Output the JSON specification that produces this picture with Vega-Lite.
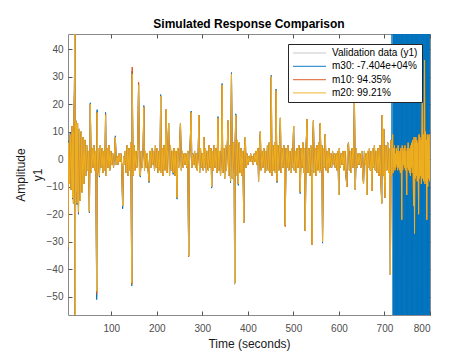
{
"$schema": "https://vega.github.io/schema/vega-lite/v6.json",
"width": 362, "height": 281,
"autosize": "none",
"padding": {"left": 68, "top": 34, "right": 44, "bottom": 40},
"background": "white",
"title": {"text": "Simulated Response Comparison", "fontSize": 12, "font": "Liberation Sans", "fontWeight": "bold", "color": "#000000", "offset": 3},
"config": {
 "view": {"stroke": "#8a8a8a", "strokeWidth": 1},
 "axis": {"labelFont": "Liberation Sans", "labelFontSize": 10, "labelColor": "#4d4d4d", "titleFont": "Liberation Sans", "titleFontSize": 12, "titleColor": "#1a1a1a", "titleFontWeight": "normal", "tickColor": "#555555", "tickSize": -4, "domain": false, "grid": false},
 "legend": {"orient": "none", "legendX": 220, "legendY": 10, "fillColor": "white", "strokeColor": "#262626", "padding": 4, "symbolType": "stroke", "symbolSize": 1089, "symbolStrokeWidth": 1.2, "symbolOpacity": 0.75, "labelFont": "Liberation Sans", "labelFontSize": 10, "labelColor": "#000000", "rowPadding": 3.3, "labelOffset": 5, "clipHeight": 10}
},
"data": {"values": [
{"t":5,"v":-33,"a":-33,"b":-33,"c":-32},
{"t":6,"v":6,"a":6.5,"b":6,"c":6},
{"t":8,"v":-9,"a":-9,"b":-9,"c":-9},
{"t":10,"v":9,"a":9.5,"b":9,"c":9},
{"t":12,"v":-11,"a":-11,"b":-11,"c":-11},
{"t":14,"v":12,"a":12,"b":12,"c":12},
{"t":15,"v":-14,"a":-14.5,"b":-14,"c":-14},
{"t":16,"v":10,"a":10,"b":10,"c":10},
{"t":17,"v":-16,"a":-16,"b":-16,"c":-16},
{"t":18,"v":15,"a":15.5,"b":15,"c":15},
{"t":19,"v":23,"a":25,"b":24,"c":24},
{"t":20,"v":50,"a":50,"b":50,"c":50},
{"t":21,"v":-60,"a":-60,"b":-60,"c":-60},
{"t":22,"v":14,"a":14,"b":14,"c":14},
{"t":23,"v":-12,"a":-12,"b":-12,"c":-12},
{"t":24,"v":13,"a":13,"b":13,"c":13},
{"t":25,"v":-16,"a":-16.5,"b":-16,"c":-16},
{"t":26,"v":13,"a":13,"b":13,"c":13},
{"t":28,"v":-19,"a":-20,"b":-19.5,"c":-19},
{"t":30,"v":11,"a":11,"b":11,"c":11},
{"t":32,"v":-15,"a":-15,"b":-15,"c":-15},
{"t":34,"v":10,"a":10,"b":10,"c":10},
{"t":36,"v":-12,"a":-12,"b":-12,"c":-12},
{"t":38,"v":8,"a":8,"b":8,"c":8},
{"t":40,"v":-9,"a":-9,"b":-9,"c":-9},
{"t":42,"v":7,"a":7,"b":7,"c":7},
{"t":44,"v":-6,"a":-6,"b":-6,"c":-6},
{"t":46,"v":5,"a":5,"b":5,"c":5},
{"t":48,"v":-4,"a":-4,"b":-4,"c":-4},
{"t":50,"v":3,"a":3,"b":3,"c":3},
{"t":52,"v":-19,"a":-19.5,"b":-19,"c":-19},
{"t":54,"v":19.5,"a":20.5,"b":20,"c":20},
{"t":56,"v":-5,"a":-5,"b":-5,"c":-5},
{"t":58,"v":4,"a":4,"b":4,"c":4},
{"t":60,"v":-3,"a":-3,"b":-3,"c":-3},
{"t":62,"v":5,"a":5,"b":5,"c":5},
{"t":64,"v":-4,"a":-4,"b":-4,"c":-4},
{"t":66,"v":3,"a":3,"b":3,"c":3},
{"t":68,"v":-50,"a":-51,"b":-49,"c":-48},
{"t":69,"v":17.5,"a":18,"b":17,"c":17},
{"t":70,"v":-5,"a":-5,"b":-5,"c":-5},
{"t":72,"v":4,"a":4,"b":4,"c":4},
{"t":74,"v":-6,"a":-6.5,"b":-6,"c":-6},
{"t":76,"v":5,"a":5,"b":5,"c":5},
{"t":78,"v":-3,"a":-3,"b":-3,"c":-3},
{"t":80,"v":4,"a":4,"b":4,"c":4},
{"t":82,"v":-5,"a":-5,"b":-5,"c":-5},
{"t":84,"v":3,"a":3,"b":3,"c":3},
{"t":86,"v":-4,"a":-4,"b":-4,"c":-4},
{"t":87.5,"v":16,"a":17,"b":16.5,"c":16},
{"t":89,"v":-6,"a":-6,"b":-6,"c":-6},
{"t":91,"v":4,"a":4,"b":4,"c":4},
{"t":93,"v":-3,"a":-3,"b":-3,"c":-3},
{"t":95,"v":5,"a":5,"b":5,"c":5},
{"t":97,"v":-4,"a":-4,"b":-4,"c":-4},
{"t":99,"v":3,"a":3,"b":3,"c":3},
{"t":101,"v":-2,"a":-2,"b":-2,"c":-2},
{"t":103,"v":2,"a":2,"b":2,"c":2},
{"t":105,"v":-3,"a":-3,"b":-3,"c":-3},
{"t":107,"v":2,"a":2,"b":2,"c":2},
{"t":109,"v":8,"a":8.5,"b":8,"c":8},
{"t":111,"v":-2,"a":-2,"b":-2,"c":-2},
{"t":113,"v":1,"a":1,"b":1,"c":1},
{"t":115,"v":-2,"a":-2,"b":-2,"c":-2},
{"t":117,"v":2,"a":2,"b":2,"c":2},
{"t":119,"v":-1,"a":-1,"b":-1,"c":-1},
{"t":121,"v":2,"a":2,"b":2,"c":2},
{"t":123,"v":-2,"a":-2,"b":-2,"c":-2},
{"t":125,"v":-17,"a":-18,"b":-17,"c":-17},
{"t":127,"v":1,"a":1,"b":1,"c":1},
{"t":129,"v":-2,"a":-2,"b":-2,"c":-2},
{"t":131,"v":3,"a":3,"b":3,"c":3},
{"t":133,"v":-5,"a":-5,"b":-5,"c":-5},
{"t":135,"v":5,"a":5,"b":5,"c":5},
{"t":137,"v":-6,"a":-6,"b":-6,"c":-6},
{"t":139,"v":4,"a":4,"b":4,"c":4},
{"t":141,"v":-4,"a":-4,"b":-4,"c":-4},
{"t":143,"v":6,"a":6,"b":6,"c":6},
{"t":145,"v":-45,"a":-46,"b":-45.5,"c":-45},
{"t":146,"v":32,"a":32,"b":33.5,"c":31},
{"t":148,"v":-6,"a":-6,"b":-6,"c":-6},
{"t":150,"v":5,"a":5,"b":5,"c":5},
{"t":152,"v":-4,"a":-4,"b":-4,"c":-4},
{"t":154,"v":3,"a":3,"b":3,"c":3},
{"t":156,"v":-3,"a":-3,"b":-3,"c":-3},
{"t":158,"v":4,"a":4,"b":4,"c":4},
{"t":160,"v":27,"a":27.5,"b":28,"c":27},
{"t":162,"v":-5,"a":-5,"b":-5,"c":-5},
{"t":164,"v":-6,"a":-6.5,"b":-6,"c":-6},
{"t":166,"v":3,"a":3,"b":3,"c":3},
{"t":168,"v":-3,"a":-3,"b":-3,"c":-3},
{"t":170,"v":4,"a":4,"b":4,"c":4},
{"t":171.5,"v":19,"a":19.5,"b":19,"c":19},
{"t":173,"v":-4,"a":-4,"b":-4,"c":-4},
{"t":175,"v":3,"a":3,"b":3,"c":3},
{"t":177,"v":-3,"a":-3,"b":-3,"c":-3},
{"t":179,"v":2,"a":2,"b":2,"c":2},
{"t":181,"v":-4,"a":-4,"b":-4,"c":-4},
{"t":183,"v":-8,"a":-8.5,"b":-8,"c":-8},
{"t":185,"v":3,"a":3,"b":3,"c":3},
{"t":187,"v":-3,"a":-3,"b":-3,"c":-3},
{"t":189,"v":4,"a":4,"b":4,"c":4},
{"t":191,"v":-2,"a":-2,"b":-2,"c":-2},
{"t":193,"v":3,"a":3,"b":3,"c":3},
{"t":195,"v":-4,"a":-4,"b":-4,"c":-4},
{"t":197,"v":5,"a":5,"b":5,"c":5},
{"t":199,"v":-3,"a":-3,"b":-3,"c":-3},
{"t":201,"v":4,"a":4,"b":4,"c":4},
{"t":203,"v":-5,"a":-5,"b":-5,"c":-5},
{"t":205,"v":3,"a":3,"b":3,"c":3},
{"t":207,"v":-4,"a":-4,"b":-4,"c":-4},
{"t":208.5,"v":23,"a":23.5,"b":23,"c":23},
{"t":210,"v":-5,"a":-5,"b":-5,"c":-5},
{"t":212,"v":4,"a":4,"b":4,"c":4},
{"t":214,"v":-6,"a":-6,"b":-6,"c":-6},
{"t":216,"v":5,"a":5,"b":5,"c":5},
{"t":218,"v":-4,"a":-4,"b":-4,"c":-4},
{"t":220.5,"v":18,"a":18,"b":18,"c":18},
{"t":222,"v":-5,"a":-5,"b":-5,"c":-5},
{"t":224,"v":4,"a":4,"b":4,"c":4},
{"t":226,"v":13,"a":13,"b":13,"c":13},
{"t":228,"v":-6,"a":-6,"b":-6,"c":-6},
{"t":230,"v":5,"a":5,"b":5,"c":5},
{"t":232,"v":-4,"a":-4,"b":-4,"c":-4},
{"t":234,"v":3,"a":3,"b":3,"c":3},
{"t":236,"v":-5,"a":-5.5,"b":-5,"c":-5},
{"t":238,"v":4,"a":4,"b":4,"c":4},
{"t":240,"v":-6,"a":-6,"b":-6,"c":-6},
{"t":242,"v":3,"a":3,"b":3,"c":3},
{"t":244.5,"v":-14,"a":-14.5,"b":-14,"c":-14},
{"t":246,"v":4,"a":4,"b":4,"c":4},
{"t":248,"v":-3,"a":-3,"b":-3,"c":-3},
{"t":250,"v":5,"a":5,"b":5,"c":5},
{"t":252,"v":13,"a":13,"b":13,"c":13},
{"t":254,"v":-4,"a":-4,"b":-4,"c":-4},
{"t":256,"v":3,"a":3,"b":3,"c":3},
{"t":258,"v":-3,"a":-3,"b":-3,"c":-3},
{"t":260,"v":2,"a":2,"b":2,"c":2},
{"t":262,"v":-2,"a":-2,"b":-2,"c":-2},
{"t":264,"v":2,"a":2,"b":2,"c":2},
{"t":266,"v":-3,"a":-3,"b":-3,"c":-3},
{"t":268,"v":3,"a":3,"b":3,"c":3},
{"t":270,"v":-35,"a":-35,"b":-35.5,"c":-35},
{"t":271.5,"v":-2,"a":-2,"b":-2,"c":-2},
{"t":273,"v":4,"a":4,"b":4,"c":4},
{"t":275.5,"v":17,"a":17.5,"b":17,"c":17},
{"t":277,"v":-3,"a":-3,"b":-3,"c":-3},
{"t":279,"v":2,"a":2,"b":2,"c":2},
{"t":281,"v":-2,"a":-2,"b":-2,"c":-2},
{"t":283,"v":3,"a":3,"b":3,"c":3},
{"t":285,"v":-3,"a":-3,"b":-3,"c":-3},
{"t":287,"v":2,"a":2,"b":2,"c":2},
{"t":289,"v":-4,"a":-4,"b":-4,"c":-4},
{"t":291,"v":3,"a":3,"b":3,"c":3},
{"t":292.5,"v":16,"a":16,"b":16,"c":16},
{"t":294,"v":-5,"a":-5,"b":-5,"c":-5},
{"t":296,"v":4,"a":4,"b":4,"c":4},
{"t":298,"v":-3,"a":-3,"b":-3,"c":-3},
{"t":300,"v":2,"a":2,"b":2,"c":2},
{"t":302,"v":-4,"a":-4,"b":-4,"c":-4},
{"t":303.5,"v":8,"a":8,"b":8,"c":8},
{"t":305,"v":-3,"a":-3,"b":-3,"c":-3},
{"t":307,"v":4,"a":4,"b":4,"c":4},
{"t":309,"v":-5,"a":-5,"b":-5,"c":-5},
{"t":311,"v":3,"a":3,"b":3,"c":3},
{"t":313,"v":-4,"a":-4,"b":-4,"c":-4},
{"t":315,"v":5,"a":5,"b":5,"c":5},
{"t":317,"v":-3,"a":-3,"b":-3,"c":-3},
{"t":319,"v":4,"a":4,"b":4,"c":4},
{"t":320.5,"v":-10,"a":-10.5,"b":-10,"c":-10},
{"t":322,"v":3,"a":3,"b":3,"c":3},
{"t":324,"v":-4,"a":-4,"b":-4,"c":-4},
{"t":326,"v":5,"a":5,"b":5,"c":5},
{"t":328,"v":-3,"a":-3,"b":-3,"c":-3},
{"t":330,"v":4,"a":4,"b":4,"c":4},
{"t":332,"v":-5,"a":-5,"b":-5,"c":-5},
{"t":334.5,"v":15,"a":15.5,"b":15,"c":15},
{"t":336,"v":-4,"a":-4,"b":-4,"c":-4},
{"t":338,"v":3,"a":3,"b":3,"c":3},
{"t":340,"v":-6,"a":-6,"b":-6,"c":-6},
{"t":342,"v":4,"a":4,"b":4,"c":4},
{"t":343.5,"v":27,"a":27.5,"b":27,"c":27},
{"t":345,"v":-5,"a":-5,"b":-5,"c":-5},
{"t":347,"v":4,"a":4,"b":4,"c":4},
{"t":349,"v":-7,"a":-7,"b":-7,"c":-7},
{"t":351,"v":5,"a":5,"b":5,"c":5},
{"t":353,"v":-4,"a":-4,"b":-4,"c":-4},
{"t":355,"v":6,"a":6,"b":6,"c":6},
{"t":356.5,"v":14,"a":14,"b":14,"c":14},
{"t":358,"v":-6,"a":-6,"b":-6,"c":-6},
{"t":360,"v":5,"a":5,"b":5,"c":5},
{"t":362,"v":-8,"a":-8.5,"b":-8,"c":-8},
{"t":364,"v":31,"a":31.5,"b":31,"c":31},
{"t":366,"v":-7,"a":-7,"b":-7,"c":-7},
{"t":368,"v":6,"a":6,"b":6,"c":6},
{"t":370,"v":-5,"a":-5,"b":-5,"c":-5},
{"t":371,"v":-45.5,"a":-45,"b":-45,"c":-45},
{"t":372,"v":5,"a":5,"b":5,"c":5},
{"t":373.5,"v":16,"a":16.5,"b":16,"c":16},
{"t":375,"v":-6,"a":-6,"b":-6,"c":-6},
{"t":377,"v":7,"a":7,"b":7,"c":7},
{"t":379,"v":-9,"a":-9.5,"b":-9,"c":-9},
{"t":381,"v":6,"a":6,"b":6,"c":6},
{"t":383,"v":-5,"a":-5,"b":-5,"c":-5},
{"t":385,"v":4,"a":4,"b":4,"c":4},
{"t":387,"v":-6,"a":-6,"b":-6,"c":-6},
{"t":389,"v":3,"a":3,"b":3,"c":3},
{"t":391,"v":-23,"a":-23,"b":-23,"c":-23},
{"t":392.5,"v":4,"a":4,"b":4,"c":4},
{"t":394.5,"v":8,"a":8,"b":8,"c":8},
{"t":396,"v":-3,"a":-3,"b":-3,"c":-3},
{"t":398,"v":2,"a":2,"b":2,"c":2},
{"t":400,"v":-2,"a":-2,"b":-2,"c":-2},
{"t":402,"v":1,"a":1,"b":1,"c":1},
{"t":404,"v":-1,"a":-1,"b":-1,"c":-1},
{"t":406,"v":2,"a":2,"b":2,"c":2},
{"t":408,"v":-1,"a":-1,"b":-1,"c":-1},
{"t":410,"v":1,"a":1,"b":1,"c":1},
{"t":412,"v":-2,"a":-2,"b":-2,"c":-2},
{"t":414,"v":2,"a":2,"b":2,"c":2},
{"t":416,"v":-1,"a":-1,"b":-1,"c":-1},
{"t":418,"v":3,"a":3,"b":3,"c":3},
{"t":420,"v":-2,"a":-2,"b":-2,"c":-2},
{"t":422,"v":4,"a":4,"b":4,"c":4},
{"t":423.5,"v":-8,"a":-8,"b":-8,"c":-8},
{"t":425,"v":3,"a":3,"b":3,"c":3},
{"t":427.5,"v":10,"a":10,"b":10,"c":10},
{"t":429,"v":-4,"a":-4,"b":-4,"c":-4},
{"t":431,"v":3,"a":3,"b":3,"c":3},
{"t":433,"v":-3,"a":-3,"b":-3,"c":-3},
{"t":435,"v":4,"a":4,"b":4,"c":4},
{"t":437,"v":-5,"a":-5,"b":-5,"c":-5},
{"t":439,"v":3,"a":3,"b":3,"c":3},
{"t":441,"v":-4,"a":-4,"b":-4,"c":-4},
{"t":443,"v":5,"a":5,"b":5,"c":5},
{"t":445,"v":-4,"a":-4,"b":-4,"c":-4},
{"t":447,"v":6,"a":6,"b":6,"c":6},
{"t":449,"v":-5,"a":-5,"b":-5,"c":-5},
{"t":451.5,"v":30,"a":30.5,"b":30,"c":30},
{"t":453,"v":-6,"a":-6,"b":-6,"c":-6},
{"t":455,"v":5,"a":5,"b":5,"c":5},
{"t":457,"v":-4,"a":-4,"b":-4,"c":-4},
{"t":459,"v":6,"a":6,"b":6,"c":6},
{"t":460.5,"v":-5,"a":-5,"b":-5,"c":-5},
{"t":462,"v":25,"a":25.5,"b":25,"c":25},
{"t":464,"v":-8,"a":-8.5,"b":-8,"c":-8},
{"t":466,"v":5,"a":5,"b":5,"c":5},
{"t":468,"v":-4,"a":-4,"b":-4,"c":-4},
{"t":470,"v":6,"a":6,"b":6,"c":6},
{"t":471.5,"v":15,"a":15,"b":15,"c":15},
{"t":473,"v":-5,"a":-5,"b":-5,"c":-5},
{"t":475,"v":4,"a":4,"b":4,"c":4},
{"t":477,"v":-3,"a":-3,"b":-3,"c":-3},
{"t":479,"v":5,"a":5,"b":5,"c":5},
{"t":480.5,"v":-4,"a":-4,"b":-4,"c":-4},
{"t":482,"v":-24,"a":-24,"b":-24.5,"c":-24},
{"t":484,"v":4,"a":4,"b":4,"c":4},
{"t":486,"v":-3,"a":-3,"b":-3,"c":-3},
{"t":488,"v":5,"a":5,"b":5,"c":5},
{"t":490,"v":-4,"a":-4,"b":-4,"c":-4},
{"t":492,"v":3,"a":3,"b":3,"c":3},
{"t":494,"v":-5,"a":-5,"b":-5,"c":-5},
{"t":496,"v":4,"a":4,"b":4,"c":4},
{"t":498,"v":-3,"a":-3,"b":-3,"c":-3},
{"t":500.5,"v":12,"a":12,"b":12,"c":12},
{"t":502,"v":-4,"a":-4,"b":-4,"c":-4},
{"t":504,"v":3,"a":3,"b":3,"c":3},
{"t":506,"v":-5,"a":-5,"b":-5,"c":-5},
{"t":508,"v":4,"a":4,"b":4,"c":4},
{"t":510,"v":-3,"a":-3,"b":-3,"c":-3},
{"t":512,"v":5,"a":5,"b":5,"c":5},
{"t":513.5,"v":-4,"a":-4,"b":-4,"c":-4},
{"t":515,"v":-12,"a":-12.5,"b":-12,"c":-12},
{"t":517,"v":4,"a":4,"b":4,"c":4},
{"t":519,"v":-3,"a":-3,"b":-3,"c":-3},
{"t":521,"v":6,"a":6,"b":6,"c":6},
{"t":523,"v":-5,"a":-5,"b":-5,"c":-5},
{"t":524.5,"v":4,"a":4,"b":4,"c":4},
{"t":526,"v":-26,"a":-26,"b":-26,"c":-26},
{"t":528,"v":5,"a":5,"b":5,"c":5},
{"t":530,"v":14.5,"a":14.5,"b":14.5,"c":14.5},
{"t":532,"v":-5,"a":-5,"b":-5,"c":-5},
{"t":534,"v":4,"a":4,"b":4,"c":4},
{"t":536,"v":-6,"a":-6,"b":-6,"c":-6},
{"t":538,"v":5,"a":5,"b":5,"c":5},
{"t":540,"v":-4,"a":-4,"b":-4,"c":-4},
{"t":541,"v":-31,"a":-31,"b":-31,"c":-31},
{"t":542.5,"v":6,"a":6,"b":6,"c":6},
{"t":544,"v":14,"a":14,"b":14,"c":14},
{"t":546,"v":-5,"a":-5,"b":-5,"c":-5},
{"t":548,"v":4,"a":4,"b":4,"c":4},
{"t":550,"v":-6,"a":-6,"b":-6,"c":-6},
{"t":552,"v":5,"a":5,"b":5,"c":5},
{"t":554,"v":-4,"a":-4,"b":-4,"c":-4},
{"t":556,"v":6,"a":6,"b":6,"c":6},
{"t":557.5,"v":-5,"a":-5,"b":-5,"c":-5},
{"t":559,"v":13,"a":13,"b":13,"c":13},
{"t":561,"v":-4,"a":-4,"b":-4,"c":-4},
{"t":562.5,"v":5,"a":5,"b":5,"c":5},
{"t":564,"v":-30,"a":-30.5,"b":-30,"c":-30},
{"t":566,"v":4,"a":4,"b":4,"c":4},
{"t":568,"v":-3,"a":-3,"b":-3,"c":-3},
{"t":570,"v":9,"a":9,"b":9,"c":9},
{"t":572,"v":-4,"a":-4,"b":-4,"c":-4},
{"t":574,"v":3,"a":3,"b":3,"c":3},
{"t":576,"v":-5,"a":-5,"b":-5,"c":-5},
{"t":578,"v":4,"a":4,"b":4,"c":4},
{"t":580,"v":-3,"a":-3,"b":-3,"c":-3},
{"t":582,"v":2,"a":2,"b":2,"c":2},
{"t":584,"v":-3,"a":-3,"b":-3,"c":-3},
{"t":586,"v":3,"a":3,"b":3,"c":3},
{"t":588,"v":-2,"a":-2,"b":-2,"c":-2},
{"t":590,"v":2,"a":2,"b":2,"c":2},
{"t":592,"v":-3,"a":-3,"b":-3,"c":-3},
{"t":594,"v":2,"a":2,"b":2,"c":2},
{"t":596,"v":-4,"a":-4,"b":-4,"c":-4},
{"t":598,"v":3,"a":3,"b":3,"c":3},
{"t":599.5,"v":-13,"a":-13,"b":-13,"c":-13},
{"t":601,"v":4,"a":4,"b":4,"c":4},
{"t":603,"v":-3,"a":-3,"b":-3,"c":-3},
{"t":605,"v":2,"a":2,"b":2,"c":2},
{"t":607,"v":-2,"a":-2,"b":-2,"c":-2},
{"t":609,"v":3,"a":3,"b":3,"c":3},
{"t":611,"v":-4,"a":-4,"b":-4,"c":-4},
{"t":613,"v":3,"a":3,"b":3,"c":3},
{"t":615,"v":-5,"a":-5,"b":-5,"c":-5},
{"t":617.5,"v":-10,"a":-10,"b":-10,"c":-10},
{"t":619,"v":4,"a":4,"b":4,"c":4},
{"t":621,"v":6,"a":6,"b":6,"c":6},
{"t":623,"v":-4,"a":-4,"b":-4,"c":-4},
{"t":625,"v":3,"a":3,"b":3,"c":3},
{"t":627,"v":-5,"a":-5,"b":-5,"c":-5},
{"t":629,"v":4,"a":4,"b":4,"c":4},
{"t":631,"v":-3,"a":-3,"b":-3,"c":-3},
{"t":632.5,"v":5,"a":5,"b":5,"c":5},
{"t":634,"v":22,"a":22.5,"b":22,"c":22},
{"t":636,"v":-11,"a":-11,"b":-11,"c":-11},
{"t":638,"v":4,"a":4,"b":4,"c":4},
{"t":640,"v":-3,"a":-3,"b":-3,"c":-3},
{"t":642,"v":2,"a":2,"b":2,"c":2},
{"t":644,"v":-2,"a":-2,"b":-2,"c":-2},
{"t":646,"v":2,"a":2,"b":2,"c":2},
{"t":648,"v":-3,"a":-3,"b":-3,"c":-3},
{"t":650,"v":3,"a":3,"b":3,"c":3},
{"t":652,"v":-4,"a":-4,"b":-4,"c":-4},
{"t":654,"v":-9,"a":-9,"b":-9,"c":-9},
{"t":656,"v":3,"a":3,"b":3,"c":3},
{"t":658,"v":-2,"a":-2,"b":-2,"c":-2},
{"t":660,"v":2,"a":2,"b":2,"c":2},
{"t":661,"v":-13,"a":-13,"b":-13,"c":-13},
{"t":663,"v":3,"a":3,"b":3,"c":3},
{"t":665,"v":-3,"a":-3,"b":-3,"c":-3},
{"t":667,"v":4,"a":4,"b":4,"c":4},
{"t":669,"v":-4,"a":-4,"b":-4,"c":-4},
{"t":671,"v":3,"a":3,"b":3,"c":3},
{"t":672.5,"v":-11.5,"a":-11.5,"b":-11.5,"c":-11.5},
{"t":674,"v":4,"a":4,"b":4,"c":4},
{"t":676,"v":-3,"a":-3,"b":-3,"c":-3},
{"t":678,"v":5,"a":5,"b":5,"c":5},
{"t":680,"v":-4,"a":-4,"b":-4,"c":-4},
{"t":682,"v":3,"a":3,"b":3,"c":3},
{"t":684,"v":-5,"a":-5,"b":-5,"c":-5},
{"t":686,"v":4,"a":4,"b":4,"c":4},
{"t":688,"v":-6,"a":-6,"b":-6,"c":-6},
{"t":690,"v":5,"a":5,"b":5,"c":5},
{"t":692,"v":-7,"a":-7,"b":-7,"c":-7},
{"t":694,"v":-16,"a":-16,"b":-16,"c":-16},
{"t":695,"v":16,"a":16,"b":16,"c":16},
{"t":697,"v":-6,"a":-6,"b":-6,"c":-6},
{"t":698.5,"v":11,"a":11,"b":11,"c":11},
{"t":700,"v":-7,"a":-7,"b":-7,"c":-7},
{"t":701.5,"v":-14,"a":-14,"b":-14,"c":-14},
{"t":703,"v":5,"a":5,"b":5,"c":5},
{"t":705,"v":-4,"a":-4,"b":-4,"c":-4},
{"t":707,"v":6,"a":6,"b":6,"c":6},
{"t":709,"v":-5,"a":-5,"b":-5,"c":-5},
{"t":711,"v":4,"a":4,"b":4,"c":4},
{"t":713,"v":-42,"a":-42,"b":-42,"c":-42},
{"t":714.5,"v":7,"a":7,"b":7,"c":7},
{"t":716,"v":-6,"a":-6,"b":-6,"c":-6},
{"t":718,"v":9,"a":1000,"b":9,"c":9},
{"t":719,"v":-5,"a":-1000,"b":-5,"c":-5},
{"t":720,"v":4,"a":1000,"b":4,"c":4},
{"t":721,"v":-3,"a":-1000,"b":-3,"c":-3},
{"t":722,"v":5,"a":1000,"b":5,"c":5},
{"t":723,"v":-4,"a":-1000,"b":-4,"c":-4},
{"t":724,"v":2,"a":1000,"b":2,"c":2},
{"t":725,"v":-3,"a":-1000,"b":-3,"c":-3},
{"t":726,"v":4,"a":1000,"b":4,"c":4},
{"t":727,"v":-2,"a":-1000,"b":-2,"c":-2},
{"t":728,"v":3,"a":1000,"b":3,"c":3},
{"t":729,"v":-4,"a":-1000,"b":-4,"c":-4},
{"t":730,"v":5,"a":1000,"b":5,"c":5},
{"t":731,"v":-3,"a":-1000,"b":-3,"c":-3},
{"t":732,"v":2,"a":1000,"b":2,"c":2},
{"t":733,"v":-4,"a":-1000,"b":-4,"c":-4},
{"t":734,"v":3,"a":1000,"b":3,"c":3},
{"t":735,"v":-5,"a":-1000,"b":-5,"c":-5},
{"t":736,"v":4,"a":1000,"b":4,"c":4},
{"t":737,"v":-3,"a":-1000,"b":-3,"c":-3},
{"t":738,"v":-22,"a":1000,"b":-22,"c":-22},
{"t":739,"v":5,"a":-1000,"b":5,"c":5},
{"t":740,"v":-4,"a":1000,"b":-4,"c":-4},
{"t":741,"v":3,"a":-1000,"b":3,"c":3},
{"t":742,"v":-2,"a":1000,"b":-2,"c":-2},
{"t":743,"v":4,"a":-1000,"b":4,"c":4},
{"t":744,"v":-3,"a":1000,"b":-3,"c":-3},
{"t":745,"v":5,"a":-1000,"b":5,"c":5},
{"t":746,"v":-4,"a":1000,"b":-4,"c":-4},
{"t":747,"v":3,"a":-1000,"b":3,"c":3},
{"t":748,"v":-5,"a":1000,"b":-5,"c":-5},
{"t":749,"v":-13,"a":-1000,"b":-13,"c":-13},
{"t":750,"v":4,"a":1000,"b":4,"c":4},
{"t":751,"v":-3,"a":-1000,"b":-3,"c":-3},
{"t":752,"v":6,"a":1000,"b":6,"c":6},
{"t":753,"v":-4,"a":-1000,"b":-4,"c":-4},
{"t":754,"v":3,"a":1000,"b":3,"c":3},
{"t":755,"v":-5,"a":-1000,"b":-5,"c":-5},
{"t":756,"v":4,"a":1000,"b":4,"c":4},
{"t":757,"v":-6,"a":-1000,"b":-6,"c":-6},
{"t":758,"v":5,"a":1000,"b":5,"c":5},
{"t":759,"v":-3,"a":-1000,"b":-3,"c":-3},
{"t":760,"v":6,"a":1000,"b":6,"c":6},
{"t":761,"v":-5,"a":-1000,"b":-5,"c":-5},
{"t":762,"v":7,"a":1000,"b":7,"c":7},
{"t":763,"v":-6,"a":-1000,"b":-6,"c":-6},
{"t":764,"v":-17,"a":1000,"b":-17,"c":-17},
{"t":765,"v":8,"a":-1000,"b":8,"c":8},
{"t":766,"v":-27,"a":1000,"b":-27,"c":-27},
{"t":767,"v":6,"a":-1000,"b":6,"c":6},
{"t":768,"v":-7,"a":1000,"b":-7,"c":-7},
{"t":769,"v":8,"a":-1000,"b":8,"c":8},
{"t":770,"v":-6,"a":1000,"b":-6,"c":-6},
{"t":771,"v":7,"a":-1000,"b":7,"c":7},
{"t":772,"v":-8,"a":1000,"b":-8,"c":-8},
{"t":773,"v":6,"a":-1000,"b":6,"c":6},
{"t":774,"v":-5,"a":1000,"b":-5,"c":-5},
{"t":775,"v":-20,"a":-1000,"b":-20,"c":-20},
{"t":776,"v":9,"a":1000,"b":9,"c":9},
{"t":777,"v":-7,"a":-1000,"b":-7,"c":-7},
{"t":778,"v":8,"a":1000,"b":8,"c":8},
{"t":779,"v":-6,"a":-1000,"b":-6,"c":-6},
{"t":780,"v":7,"a":1000,"b":7,"c":7},
{"t":781,"v":-9,"a":-1000,"b":-9,"c":-9},
{"t":782,"v":8,"a":1000,"b":8,"c":8},
{"t":783,"v":21,"a":-1000,"b":21,"c":21},
{"t":784,"v":-7,"a":1000,"b":-7,"c":-7},
{"t":785,"v":9,"a":-1000,"b":9,"c":9},
{"t":786,"v":-8,"a":1000,"b":-8,"c":-8},
{"t":787,"v":6,"a":-1000,"b":6,"c":6},
{"t":788,"v":36,"a":1000,"b":36,"c":36},
{"t":789,"v":-9,"a":-1000,"b":-9,"c":-9},
{"t":790,"v":10,"a":1000,"b":10,"c":10},
{"t":791,"v":-8,"a":-1000,"b":-8,"c":-8},
{"t":792,"v":7,"a":1000,"b":7,"c":7},
{"t":793,"v":-22,"a":-1000,"b":-22,"c":-22},
{"t":794,"v":9,"a":1000,"b":9,"c":9},
{"t":795,"v":-10,"a":-1000,"b":-10,"c":-10},
{"t":796,"v":8,"a":1000,"b":8,"c":8},
{"t":797,"v":-7,"a":-1000,"b":-7,"c":-7},
{"t":798,"v":9,"a":1000,"b":9,"c":9},
{"t":799,"v":-8,"a":-1000,"b":-8,"c":-8},
{"t":800,"v":5,"a":1000,"b":5,"c":5}
]},
"layer": [
 {"mark": {"type": "line", "clip": true, "strokeWidth": 1},
  "encoding": {
   "x": {"field": "t", "type": "quantitative", "scale": {"domain": [5, 800], "nice": false, "zero": false}, "axis": {"orient": "top", "values": [100,200,300,400,500,600,700,800], "labels": false, "title": null}},
   "y": {"field": "v", "type": "quantitative", "scale": {"domain": [-56.6, 45.5], "nice": false, "zero": false}, "axis": {"orient": "right", "values": [-50,-40,-30,-20,-10,0,10,20,30,40], "labels": false, "title": null}},
   "color": {"datum": "Validation data (y1)", "title": null, "scale": {"domain": ["Validation data (y1)", "m30: -7.404e+04%", "m10: 94.35%", "m20: 99.21%"], "range": ["#b5b5b5", "#0072bd", "#d95319", "#edb120"]}}
  }},
 {"mark": {"type": "line", "clip": true, "strokeWidth": 1},
  "encoding": {
   "x": {"field": "t", "type": "quantitative", "scale": {"domain": [5, 800], "nice": false, "zero": false}, "axis": null},
   "y": {"field": "a", "type": "quantitative", "scale": {"domain": [-56.6, 45.5], "nice": false, "zero": false}, "axis": null},
   "color": {"datum": "m30: -7.404e+04%", "title": null}
  }},
 {"mark": {"type": "line", "clip": true, "strokeWidth": 1},
  "encoding": {
   "x": {"field": "t", "type": "quantitative", "scale": {"domain": [5, 800], "nice": false, "zero": false}, "axis": null},
   "y": {"field": "b", "type": "quantitative", "scale": {"domain": [-56.6, 45.5], "nice": false, "zero": false}, "axis": null},
   "color": {"datum": "m10: 94.35%", "title": null}
  }},
 {"mark": {"type": "line", "clip": true, "strokeWidth": 1},
  "encoding": {
   "x": {"field": "t", "type": "quantitative", "scale": {"domain": [5, 800], "nice": false, "zero": false}, "axis": {"orient": "bottom", "values": [100,200,300,400,500,600,700,800], "title": "Time (seconds)", "labelPadding": 12, "titlePadding": 5}},
   "y": {"field": "c", "type": "quantitative", "scale": {"domain": [-56.6, 45.5], "nice": false, "zero": false}, "axis": {"orient": "left", "values": [-50,-40,-30,-20,-10,0,10,20,30,40], "title": ["Amplitude", "y1"], "titleLineHeight": 17, "labelPadding": 9, "titlePadding": 2}},
   "color": {"datum": "m20: 99.21%", "title": null}
  }}
],
"resolve": {"scale": {"x": "independent", "y": "independent"}}
}
